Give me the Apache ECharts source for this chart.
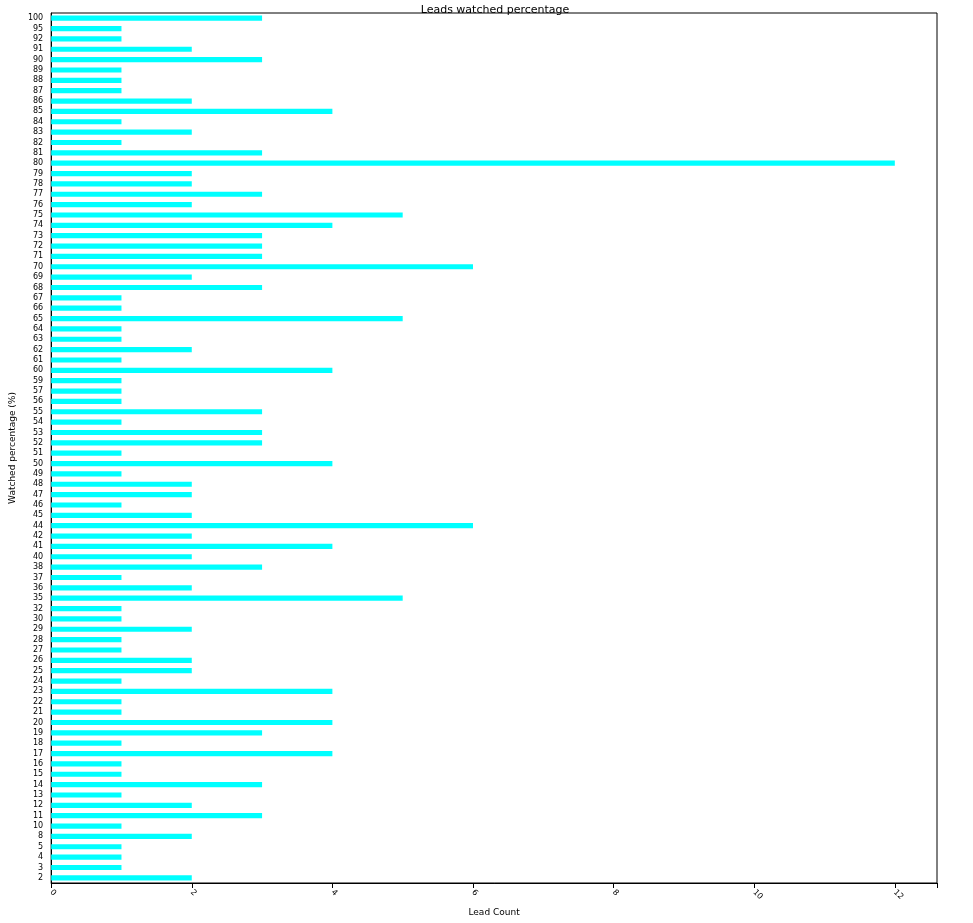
<!DOCTYPE html>
<html><head><meta charset="utf-8">
<script src="https://cdn.jsdelivr.net/npm/echarts@6/dist/echarts.min.js"></script>
<style>html,body{margin:0;padding:0;background:#fff}#c{width:973px;height:923px}</style>
</head><body><div id="c"></div>
<script>
const categories = ['2','3','4','5','8','10','11','12','13','14','15','16','17','18','19','20','21','22','23','24','25','26','27','28','29','30','32','35','36','37','38','40','41','42','44','45','46','47','48','49','50','51','52','53','54','55','56','57','59','60','61','62','63','64','65','66','67','68','69','70','71','72','73','74','75','76','77','78','79','80','81','82','83','84','85','86','87','88','89','90','91','92','95','100'];
const leadCounts = [2,1,1,1,2,1,3,2,1,3,1,1,4,1,3,4,1,1,4,1,2,2,1,1,2,1,1,5,2,1,3,2,4,2,6,2,1,2,2,1,4,1,3,3,1,3,1,1,1,4,1,2,1,1,5,1,1,3,2,6,3,3,3,4,5,2,3,2,2,12,3,1,2,1,4,2,1,1,1,3,2,1,1,3];
const chart = echarts.init(document.getElementById('c'));
const ff = 'DejaVu Sans';
chart.setOption({
  animation:false,
  textStyle:{fontFamily:ff},
  title:{text:'Leads watched percentage',left:490,top:0,textAlign:'center',textStyle:{fontSize:11,fontWeight:'normal',color:'#000',fontFamily:ff}},
  grid:{left:44,right:36,top:13,bottom:40,show:true,borderColor:'#000',borderWidth:1,containLabel:false},
  xAxis:{type:'value',min:0,max:12.6,interval:2,name:'Lead Count',nameLocation:'middle',nameGap:25,
    nameTextStyle:{fontSize:9,color:'#000'},
    axisLine:{show:true,lineStyle:{color:'#000'}},axisTick:{show:true,lineStyle:{color:'#000'}},
    axisLabel:{rotate:-45,fontSize:8,color:'#000',formatter:v=>Number.isInteger(v)?v:''},splitLine:{show:false}},
  yAxis:{type:'category',data:categories,name:'Watched percentage (%)',nameLocation:'middle',nameGap:27,
    nameTextStyle:{fontSize:9,color:'#000'},
    axisLine:{lineStyle:{color:'#000'}},axisTick:{alignWithLabel:true,lineStyle:{color:'#000'}},
    axisLabel:{fontSize:8,color:'#000',interval:0}},
  series:[{type:'bar',data:leadCounts,barWidth:'50%',itemStyle:{color:'#00ffff'}}]
});
</script></body></html>
